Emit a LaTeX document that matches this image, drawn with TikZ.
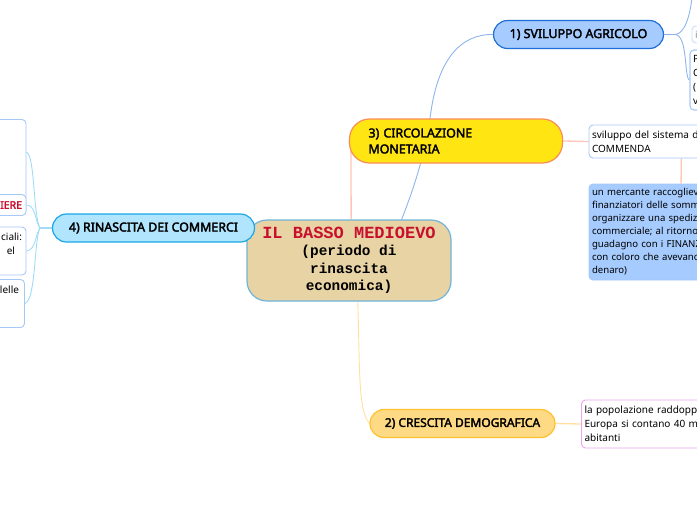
\documentclass[tikz,border=0pt]{standalone}
\usepackage{fontspec}
\setmainfont{Noto Sans}[BoldFont={Noto Sans},BoldFeatures={FakeBold=2.6}]
\newfontfamily\monof{Liberation Mono}
\usetikzlibrary{backgrounds}
\definecolor{bluefill}{HTML}{A6CBFE}
\definecolor{blueline}{HTML}{1E6FD9}
\definecolor{bluelink}{HTML}{8DB4EC}
\definecolor{yelfill}{HTML}{FFE512}
\definecolor{orline}{HTML}{FB8C5A}
\definecolor{salmon}{HTML}{FFC5B5}
\definecolor{cyanfill}{HTML}{B1E4FD}
\definecolor{cyanline}{HTML}{19A7E6}
\definecolor{cyanlink}{HTML}{A0DCF8}
\definecolor{orfill}{HTML}{FFDA85}
\definecolor{orl}{HTML}{FFC02E}
\definecolor{orlink}{HTML}{FFE0A0}
\definecolor{tan}{HTML}{E8D3A5}
\definecolor{tanline}{HTML}{71B3D8}
\definecolor{crimson}{HTML}{C8102E}
\definecolor{pinkline}{HTML}{E9A6EA}
\definecolor{boxline}{HTML}{A6C8F7}
\tikzset{
  x=1pt,y=-1pt,
  topic/.style={draw,rounded corners=14pt,line width=1.2pt,font=\fontsize{12.4}{16}\selectfont\bfseries,inner sep=0pt},
  leaf/.style={draw=boxline,rounded corners=4pt,line width=0.9pt,fill=white,font=\fontsize{10}{14}\selectfont,inner sep=0pt,align=left},
  link/.style={line width=0.9pt}
}
\begin{document}
\begin{tikzpicture}
\useasboundingbox (0,0) rectangle (697,520);
\clip (0,0) rectangle (697,520);
\node[topic,draw=tanline,fill=tan,rounded corners=20pt,minimum width=204pt,minimum height=81pt,align=center,font=\monof\fontsize{14.4}{17.5}\selectfont\bfseries] (root) at (349,260.5) {{\color{crimson}\fontsize{17}{18}\selectfont IL BASSO MEDIOEVO}\\(periodo di\\rinascita\\economica)};
\node[topic,draw=blueline,fill=bluefill,minimum width=170pt,minimum height=28pt] (agri) at (578.5,34.5) {1) SVILUPPO AGRICOLO};
\node[topic,draw=orline,fill=yelfill,rounded corners=20pt,minimum width=213pt,minimum height=44pt,text width=175pt,align=left] (mon) at (456,141) {3) CIRCOLAZIONE\\MONETARIA};
\node[topic,draw=cyanline,fill=cyanfill,minimum width=202pt,minimum height=28pt] (comm) at (153.5,228) {4) RINASCITA DEI COMMERCI};
\node[topic,draw=orl,fill=orfill,minimum width=185pt,minimum height=28pt,font=\fontsize{12}{16}\selectfont\bfseries] (demo) at (462.5,423.5) {2) CRESCITA DEMOGRAFICA};
\node[leaf,minimum width=160pt,minimum height=33pt,text width=154pt] (comm1) at (669,141.5) {sviluppo del sistema d\\COMMENDA};
\node[leaf,fill=bluefill,minimum width=160pt,minimum height=96pt,text width=154pt,font=\fontsize{9.6}{13}\selectfont] (merc) at (669,232) {un mercante raccogliev\\finanziatori delle somm\\organizzare una spedizi\\commerciale; al ritorno\\guadagno con i FINANZ\\con coloro che avevano\\denaro)};
\node[leaf,draw=pinkline,minimum width=160pt,minimum height=48pt,text width=154pt] (pop) at (661.5,424) {la popolazione raddopp\\Europa si contano 40 m\\abitanti};
\node[leaf,minimum width=40pt,minimum height=17pt,text width=34pt,draw=boxline!60,text=black!40] (a2) at (712,34.5) {i};
\node[leaf,minimum width=40pt,minimum height=60pt,text width=34pt,line width=1.1pt] (a3) at (710,80) {P\\C\\(\\v};
\coordinate (a1) at (692,-2);
\coordinate (hubA) at (675,34.5);
\coordinate (hubL) at (40,228);
\node[leaf,minimum width=60pt,minimum height=95pt] (l1) at (-4,167) {};
\node[leaf,minimum width=60pt,minimum height=21pt,text width=52pt,align=right,font=\fontsize{10.5}{14}\selectfont\bfseries,text=crimson] (l2) at (-4,205) {IERE};
\node[leaf,minimum width=60pt,minimum height=48pt,text width=52pt,align=right] (l3) at (-4,251) {ciali:\\el\hspace*{7pt}\mbox{}\\\mbox{}};
\node[leaf,minimum width=60pt,minimum height=48pt,text width=49pt,align=right] (l4) at (-5.5,303.5) {lelle\\\mbox{}\\\mbox{}};
\begin{scope}[on background layer]
\draw[link,color=salmon,line width=1.3pt] (root.87) -- (351,155) .. controls (351,147) and (351,144) .. (mon.west);
\draw[link,color=bluelink] (root.38.7) .. controls (425,160) and (428,130) .. (432,105) .. controls (440,60) and (460,34) .. (agri.west);
\draw[link,color=orlink] (root.-78.7) .. controls (360,370) and (358,410) .. (demo.west);
\draw[color=cyanlink,line width=1.6pt] (comm.west) -- (hubL);
\draw[link,color=cyanlink] (hubL) .. controls (33,215) and (35,155) .. (l1.26.6);
\draw[link,color=cyanlink] (hubL) .. controls (35,222) and (36,205) .. (l2.east);
\draw[link,color=cyanlink] (hubL) .. controls (35,235) and (36,250) .. (l3.east);
\draw[link,color=cyanlink] (hubL) .. controls (34,240) and (36,300) .. (l4.east);
\draw[link,color=salmon,line width=1.3pt] (mon.east) -- (comm1.west);
\draw[link,color=salmon,line width=1.3pt] (comm1.-54.7) -- (merc.76);
\draw[link,color=orlink,line width=1.3pt] (demo.east) -- (pop.west);
\draw[link,color=bluelink] (agri.east) -- (hubA) .. controls (685,34) and (690,15) .. (a1);
\draw[link,color=bluelink] (hubA) .. controls (688,35) and (684,78) .. (a3.west);
\end{scope}
\end{tikzpicture}
\end{document}
